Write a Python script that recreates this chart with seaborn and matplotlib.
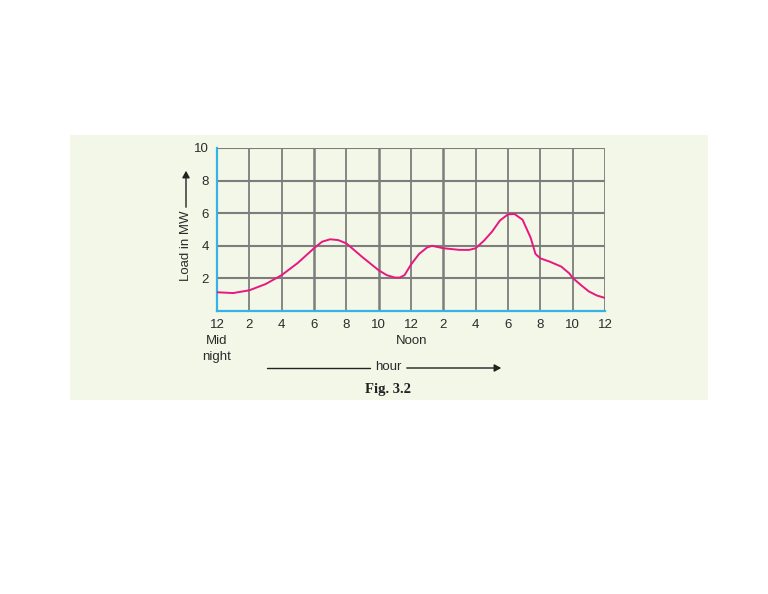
import numpy as np
import pandas as pd
import matplotlib
matplotlib.use("Agg")
import matplotlib.pyplot as plt
import seaborn as sns
from matplotlib.patches import Rectangle

# load curve (hours after midnight, MW)
hours = [0, 1, 2, 3, 4, 5, 6, 6.5, 7, 7.5, 8, 9, 9.5, 10, 10.5, 11, 11.3,
         11.6, 12, 12.5, 13, 13.3, 14, 15, 15.6, 16, 16.5, 17, 17.5, 18,
         18.4, 18.9, 19.4, 19.7, 20, 20.6, 21.3, 21.8, 22, 22.5, 23, 23.5, 24]
load = [1.15, 1.1, 1.27, 1.65, 2.2, 2.95, 3.85, 4.25, 4.4, 4.35, 4.15, 3.3,
        2.9, 2.5, 2.2, 2.05, 2.05, 2.2, 2.85, 3.5, 3.9, 4.0, 3.85, 3.75,
        3.75, 3.85, 4.3, 4.85, 5.55, 5.93, 5.95, 5.6, 4.5, 3.5, 3.23, 3.02,
        2.72, 2.3, 2.03, 1.6, 1.2, 0.95, 0.8]
x_ticks = list(range(0, 25, 2))
x_labels = ["12", "2", "4", "6", "8", "10", "12", "2", "4", "6", "8", "10", "12"]
y_ticks = [2, 4, 6, 8, 10]

df = pd.DataFrame({"hour": hours, "load": load})

sns.set_style("white")
plt.rcParams["font.family"] = ["Liberation Sans", "DejaVu Sans"]

bg = "#f3f7e7"
fig = plt.figure(figsize=(7.68, 5.94), dpi=100)
fig.patch.set_facecolor("white")
fig.patches.append(Rectangle((70 / 768, 194 / 594), 638 / 768, 265 / 594,
                             transform=fig.transFigure, facecolor=bg,
                             edgecolor="none", zorder=-5))

ax = fig.add_axes([217 / 768, 283 / 594, 388 / 768, 163 / 594])
ax.set_facecolor(bg)

# grid
for x in x_ticks[1:]:
    lw = 1.8 if x in (6, 10, 14) else 1.3
    ax.axvline(x, color="#7d7d7d", lw=lw, zorder=1)
for y in y_ticks:
    ax.axhline(y, color="#7d7d7d", lw=1.5, zorder=1)

sns.lineplot(data=df, x="hour", y="load", ax=ax, color="#e8177f", lw=1.4,
             zorder=3)

ax.set_xlim(0, 24)
ax.set_ylim(0, 10)
ax.set_xticks(x_ticks)
ax.set_xticklabels(x_labels)
ax.set_yticks(y_ticks)
ax.set_yticklabels([str(v) for v in y_ticks])
ax.tick_params(axis="both", length=0, labelsize=9.5, colors="#2b2b2b")
ax.tick_params(axis="x", pad=6)
ax.tick_params(axis="y", pad=6)
ax.set_xlabel("")
ax.set_ylabel("")

for s in ["left", "bottom"]:
    ax.spines[s].set_color("#33b3e6")
    ax.spines[s].set_linewidth(1.6)
for s in ["top", "right"]:
    ax.spines[s].set_visible(False)

# labels in figure coords
def fx(px):
    return px / 768

def fy(py):
    return 1 - py / 594

tc = "#2b2b2b"
fig.text(fx(186), fy(246), "Load in MW", rotation=90, ha="center",
         va="center", fontsize=9.5, color=tc)
fig.add_artist(matplotlib.patches.FancyArrowPatch(
    (fx(186), fy(210)), (fx(186), fy(168)), transform=fig.transFigure,
    arrowstyle="-|>,head_length=4,head_width=2.2", color="#222222", lw=1))

fig.text(fx(217), fy(341), "Mid", ha="center", va="center", fontsize=9.5,
         color=tc)
fig.text(fx(217), fy(357), "night", ha="center", va="center", fontsize=9.5,
         color=tc)
fig.text(fx(412), fy(341), "Noon", ha="center", va="center", fontsize=9.5,
         color=tc)

fig.add_artist(matplotlib.lines.Line2D([fx(267), fx(370)], [fy(368), fy(368)],
                                       transform=fig.transFigure,
                                       color="#222222", lw=1))
fig.text(fx(388), fy(367), "hour", ha="center", va="center", fontsize=9.5,
         color=tc)
fig.add_artist(matplotlib.patches.FancyArrowPatch(
    (fx(404), fy(368)), (fx(504), fy(368)), transform=fig.transFigure,
    arrowstyle="-|>,head_length=4,head_width=2.2", color="#222222", lw=1))

fig.text(fx(388), fy(390), "Fig. 3.2", ha="center", va="center", fontsize=10.5,
         fontweight="bold", family="Liberation Serif", color="#222222")

fig.savefig("out.png", dpi=100, facecolor="white")
